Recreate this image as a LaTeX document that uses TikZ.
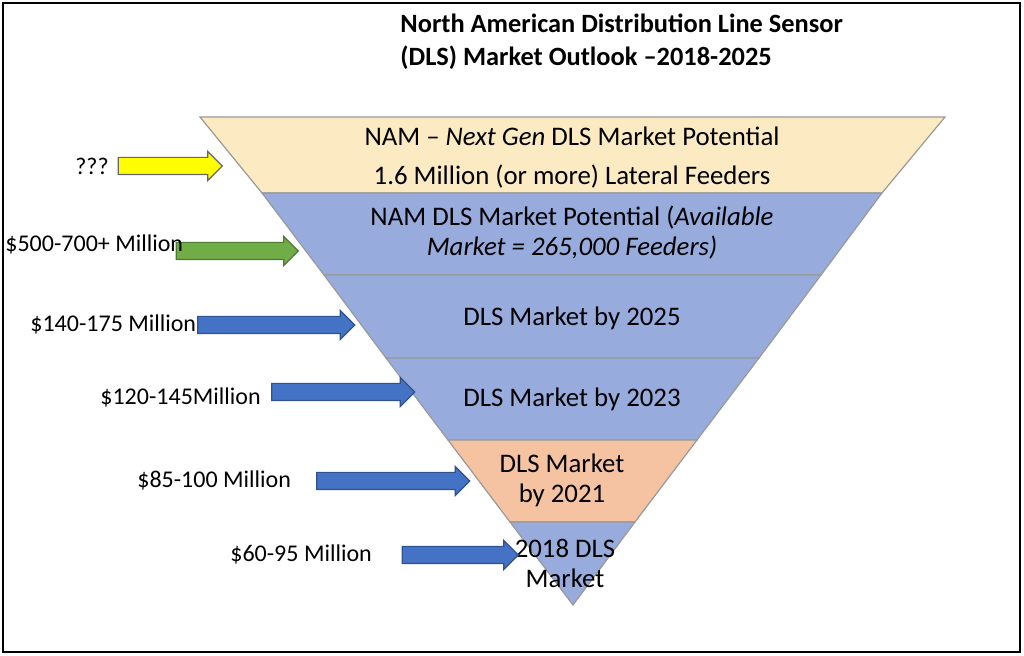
\documentclass[tikz,border=0pt]{standalone}
\usepackage{fontspec}
\setmainfont{Carlito}
\usetikzlibrary{shapes.arrows}
\definecolor{bandY}{HTML}{FCEBC2}
\definecolor{bandB}{HTML}{97ABDD}
\definecolor{bandP}{HTML}{F5C3A1}
\definecolor{arB}{HTML}{4472C4}
\definecolor{arBd}{HTML}{2F528F}
\definecolor{arG}{HTML}{70AD47}
\definecolor{arY}{HTML}{FFFF00}
\begin{document}
\begin{tikzpicture}[x=0.5pt,y=-0.5pt,
  band/.style={draw=black!40,line width=0.6pt},
  lbl/.style={font=\fontsize{13.4}{15}\selectfont,align=center,inner sep=0},
  side/.style={font=\fontsize{12}{14}\selectfont,inner sep=0},
  barrow/.style={single arrow,single arrow head extend=3pt,minimum width=14pt,inner xsep=0pt,inner ysep=4pt,draw=arBd,fill=arB,line width=0.6pt,shape border rotate=0}]
\useasboundingbox (0,0) rectangle (1024,656);
\draw[line width=1pt] (3,3) rectangle (1020,652);
\node[anchor=west,align=left,font=\bfseries\fontsize{13.2}{16.5}\selectfont,inner sep=0] (title) at (400,42) {North American Distribution Line Sensor\\(DLS) Market Outlook –2018-2025};
% funnel
\filldraw[band,fill=bandY] (200,117) -- (945,117) -- (882,193) -- (262,193) -- cycle;
\filldraw[band,fill=bandB] (262,193) -- (882,193) -- (821,275) -- (324,275) -- cycle;
\filldraw[band,fill=bandB] (324,275) -- (821,275) -- (759,358) -- (386,358) -- cycle;
\filldraw[band,fill=bandB] (386,358) -- (759,358) -- (697,440) -- (448,440) -- cycle;
\filldraw[band,fill=bandP] (448,440) -- (697,440) -- (635,522) -- (510,522) -- cycle;
\filldraw[band,fill=bandB] (510,522) -- (635,522) -- (573,605) -- cycle;
\node[lbl] (b1a) at (572,136) {NAM – \textit{Next Gen} DLS Market Potential};
\node[lbl] (b1b) at (572,177) {1.6 Million (or more) Lateral Feeders};
\node[lbl] (b2) at (572,233) {NAM DLS Market Potential (\textit{Available}\\\textit{Market = 265,000 Feeders)}};
\node[lbl] (b3) at (572,318) {DLS Market by 2025};
\node[lbl] (b4) at (572,399) {DLS Market by 2023};
\node[lbl] (b5) at (562,480) {DLS Market\\by 2021};
\node[lbl] (b6) at (565,563) {2018 DLS\\Market};
% arrows
\node[barrow,draw=black!60,fill=arY,minimum height=52pt] (a1) at (166,166) {};
\node[barrow,draw=arG!70!black,fill=arG,minimum height=61pt] (a2) at (233,251) {};
\node[barrow,minimum height=78.5pt] (a3) at (272,325) {};
\node[barrow,minimum height=71.5pt] (a4) at (339,392) {};
\node[barrow,minimum height=76.5pt] (a5) at (389,481) {};
\node[barrow,minimum height=58pt] (a6) at (456,555) {};
\node[side,anchor=center] (t1) at (92,166) {???};
\node[side,anchor=west] (t2) at (5,245) {\$500-700+ Million};
\node[side,anchor=west] (t3) at (30,325) {\$140-175 Million};
\node[side,anchor=west] (t4) at (100,398) {\$120-145Million};
\node[side,anchor=west] (t5) at (137,481) {\$85-100 Million};
\node[side,anchor=west] (t6) at (230,555) {\$60-95 Million};
\end{tikzpicture}
\end{document}
